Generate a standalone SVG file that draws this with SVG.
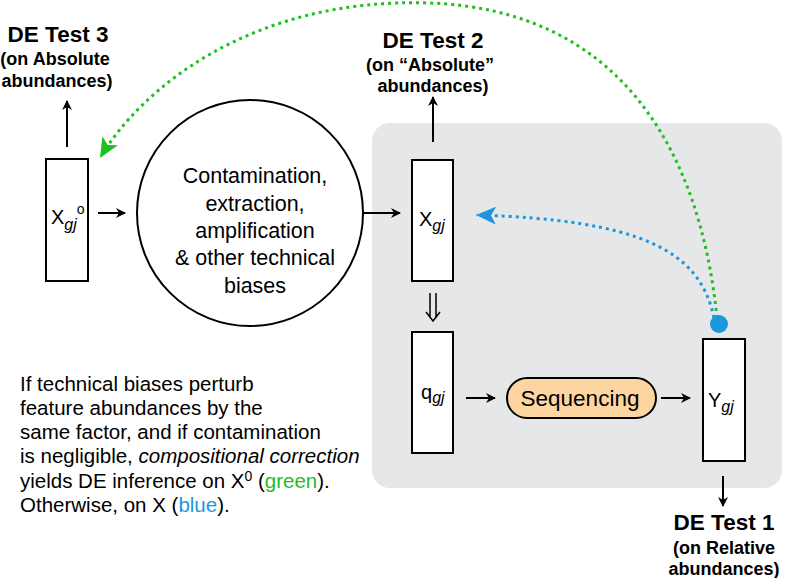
<svg xmlns="http://www.w3.org/2000/svg" width="785" height="578" viewBox="0 0 785 578">
<defs>
<marker id="ah" markerWidth="10" markerHeight="10" refX="9" refY="5" orient="auto" markerUnits="userSpaceOnUse"><path d="M0,0 L10,5 L0,10 L3,5 Z" fill="#000"/></marker>
<marker id="ag" markerWidth="22" markerHeight="18" refX="20" refY="9" orient="auto" markerUnits="userSpaceOnUse"><path d="M0,0 L20,9 L0,18 L5,9 Z" fill="#1fbf1f"/></marker>
<marker id="ab" markerWidth="22" markerHeight="18" refX="20" refY="9" orient="auto" markerUnits="userSpaceOnUse"><path d="M0,0 L20,9 L0,18 L5,9 Z" fill="#1e96dc"/></marker>
<style>
text{font-family:"Liberation Sans",Arial,sans-serif;fill:#000}
.b{font-weight:bold}
.box{fill:#fff;stroke:#000;stroke-width:2}
.ln{stroke:#000;stroke-width:2;fill:none}
</style>
</defs>
<rect x="372" y="123" width="410" height="365" rx="18" fill="#e6e7e8"/>
<g id="connectors">
<line class="ln" x1="67" y1="147" x2="67" y2="101" marker-end="url(#ah)"/>
<line class="ln" x1="433" y1="142" x2="433" y2="97" marker-end="url(#ah)"/>
<line class="ln" x1="98" y1="213" x2="125" y2="213" marker-end="url(#ah)"/>
<line class="ln" x1="363" y1="213" x2="400" y2="213" marker-end="url(#ah)"/>
<path d="M430,293 V318 M436,293 V318 M426,312 L433,321 L440,312" fill="none" stroke="#000" stroke-width="1.5"/>
<line class="ln" x1="466" y1="398" x2="495" y2="398" marker-end="url(#ah)"/>
<line class="ln" x1="661" y1="398" x2="690" y2="398" marker-end="url(#ah)"/>
<line class="ln" x1="723" y1="476" x2="723" y2="506" marker-end="url(#ah)"/>
<path d="M717,318 C700,150 620,10 430,3 C250,-3 140,90 100,158" fill="none" stroke="#1fbf1f" stroke-width="3" stroke-dasharray="3,4" marker-end="url(#ag)"/>
<path d="M714,318 C700,250 640,220 476,215" fill="none" stroke="#1e96dc" stroke-width="3" stroke-dasharray="3,4" marker-end="url(#ab)"/>
</g>
<g id="x0"><rect class="box" x="46" y="159" width="42" height="122"/><text x="51" y="224" font-size="20">X<tspan font-size="16" font-style="italic" dy="6">gj</tspan><tspan font-size="14" dy="-16">o</tspan></text></g>
<g id="bias"><circle cx="250" cy="213" r="113" fill="#fff" stroke="#000" stroke-width="2"/>
<text font-size="21.5" text-anchor="middle"><tspan x="255" y="183">Contamination,</tspan><tspan x="255" y="211">extraction,</tspan><tspan x="255" y="238">amplification</tspan><tspan x="255" y="265">&amp; other technical</tspan><tspan x="255" y="293">biases</tspan></text></g>
<g id="x"><rect class="box" x="412" y="160" width="41" height="121"/><text x="419" y="226" font-size="20">X<tspan font-size="16" font-style="italic" dy="5">gj</tspan></text></g>
<g id="q"><rect class="box" x="412" y="332" width="41" height="121"/><text x="421" y="399" font-size="20">q<tspan font-size="16" font-style="italic" dy="4">gj</tspan></text></g>
<g id="seq"><rect x="507" y="378" width="149" height="40" rx="20" fill="#fcd5a0" stroke="#000" stroke-width="2"/><text x="580" y="406" font-size="22.5" text-anchor="middle">Sequencing</text></g>
<g id="y"><rect class="box" x="703" y="339" width="42" height="122"/><text x="708" y="407" font-size="20">Y<tspan font-size="16" font-style="italic" dy="5">gj</tspan></text></g>
<circle cx="719" cy="324" r="9" fill="#1e96dc"/>
<g id="t3" text-anchor="middle"><text x="58" y="42" font-size="22.5" class="b">DE Test 3</text><text x="55" y="65" font-size="18" class="b">(on Absolute</text><text x="57" y="87" font-size="18" class="b">abundances)</text></g>
<g id="t2" text-anchor="middle"><text x="433" y="48" font-size="22.5" class="b">DE Test 2</text><text x="430" y="71" font-size="18" class="b">(on “Absolute”</text><text x="433" y="92" font-size="18" class="b">abundances)</text></g>
<g id="t1" text-anchor="middle"><text x="724" y="530" font-size="22.5" class="b">DE Test 1</text><text x="724" y="554" font-size="18" class="b">(on Relative</text><text x="724" y="575" font-size="18" class="b">abundances)</text></g>
<text font-size="20.5"><tspan x="20" y="391">If technical biases perturb</tspan><tspan x="20" y="415">feature abundances by the</tspan><tspan x="20" y="439">same factor, and if contamination</tspan><tspan x="20" y="463">is negligible, <tspan font-style="italic">compositional correction</tspan></tspan><tspan x="20" y="488">yields DE inference on X<tspan font-size="14" dy="-7">0</tspan><tspan dy="7"> (</tspan><tspan fill="#1fbf1f">green</tspan>).</tspan><tspan x="20" y="512">Otherwise, on X (<tspan fill="#1e96dc">blue</tspan>).</tspan></text>
</svg>
